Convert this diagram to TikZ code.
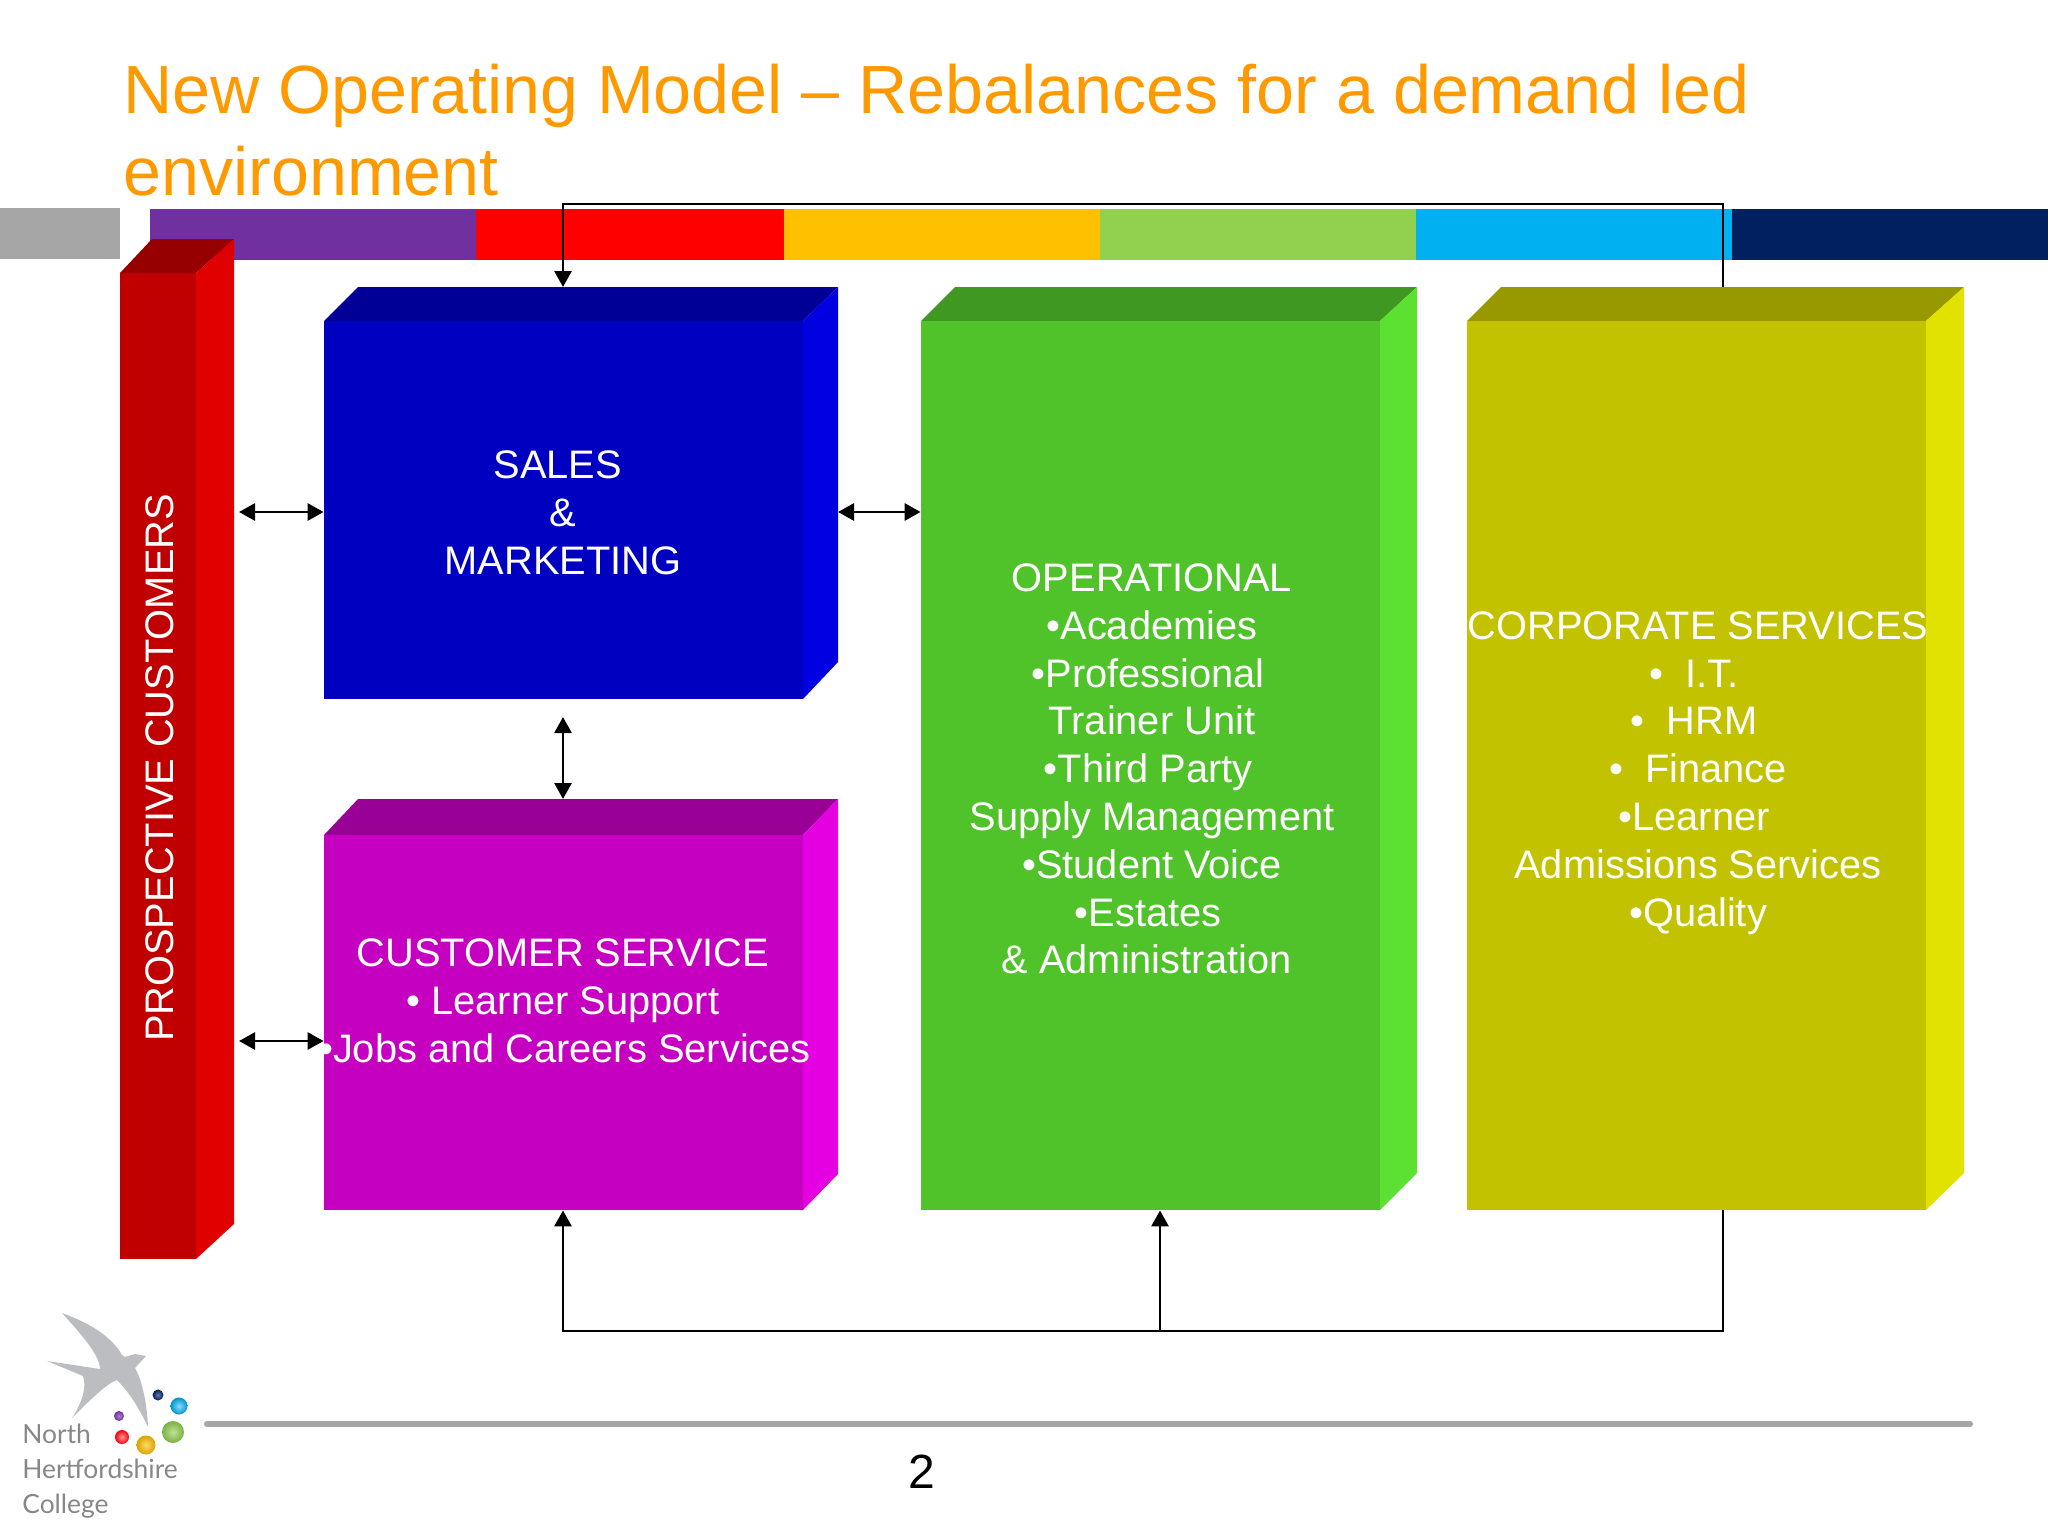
\documentclass[tikz,border=0pt]{standalone}
\usepackage{fontspec}
\setmainfont{Liberation Sans}
\newfontfamily\logofont{Lato}
\usetikzlibrary{arrows.meta,positioning,calc,fit}
\definecolor{titleorange}{RGB}{255,153,0}
\definecolor{stripgrey}{RGB}{166,166,166}
\definecolor{strippurple}{RGB}{112,48,160}
\definecolor{stripyellow}{RGB}{255,192,0}
\definecolor{stripgreen}{RGB}{146,208,80}
\definecolor{stripblue}{RGB}{0,176,240}
\definecolor{stripnavy}{RGB}{0,32,96}
\definecolor{logogrey}{RGB}{188,189,192}
\definecolor{logotext}{RGB}{135,135,138}
\definecolor{redfront}{RGB}{192,0,0}
\definecolor{redside}{RGB}{224,0,0}
\definecolor{redtop}{RGB}{150,0,0}
\definecolor{bluefront}{RGB}{0,0,192}
\definecolor{blueside}{RGB}{0,0,224}
\definecolor{bluetop}{RGB}{0,0,150}
\definecolor{magfront}{RGB}{197,0,192}
\definecolor{magside}{RGB}{228,0,224}
\definecolor{magtop}{RGB}{152,0,150}
\definecolor{greenfront}{RGB}{80,195,43}
\definecolor{greenside}{RGB}{92,224,50}
\definecolor{greentop}{RGB}{62,152,33}
\definecolor{yelfront}{RGB}{194,194,0}
\definecolor{yelside}{RGB}{226,226,0}
\definecolor{yeltop}{RGB}{152,152,0}
\newcommand{\nudge}{\rule{3.9pt}{0pt}}
\tikzset{
  front/.style={fit={#1},inner sep=0pt,draw=none},
  boxtext/.style={text=white,align=center,font=\fontsize{19.9}{23.9}\selectfont},
  titletext/.style={anchor=base west,inner sep=0pt,text=titleorange,font=\fontsize{34.1}{41}\selectfont},
  conn/.style={line width=1.4pt,black},
  both/.style={conn,{Triangle[length=8pt,width=8.5pt]}-{Triangle[length=8pt,width=8.5pt]}},
  into/.style={conn,-{Triangle[length=8pt,width=8.5pt]}},
  ball/.style={circle,inner sep=0pt,minimum size=#1,shading=radial},
  logoline/.style={anchor=base west,inner sep=0pt,text=logotext,font=\logofont\fontsize{13.2}{16}\selectfont}
}
\begin{document}
\begin{tikzpicture}[x=0.5pt,y=-0.5pt]
    \useasboundingbox (0,0) rectangle (2048,1536);

    % Title
    \node[titletext] (title1) at (123,113) {New Operating Model -- Rebalances for a demand led};
    \node[titletext] (title2) at (123,195) {environment};

    % Colour strip
    \fill[stripgrey] (0,208) rectangle (120,259);
    \fill[strippurple] (150,209) rectangle (476,260);
    \fill[red] (476,209) rectangle (784,260);
    \fill[stripyellow] (784,209) rectangle (1100,260);
    \fill[stripgreen] (1100,209) rectangle (1416,260);
    \fill[stripblue] (1416,209) rectangle (1732,260);
    \fill[stripnavy] (1732,209) rectangle (2048,260);

    % Prospective customers
    \fill[redtop] (120,273) -- (152,239) -- (234,239) -- (196,273) -- cycle;
    \fill[redside] (196,273) -- (234,239) -- (234,1224) -- (196,1259) -- cycle;
    \node[front={(120,273) (196,1259)},fill=redfront] (prospects) {};
    \node[boxtext,rotate=90] (prospectstxt) at (160,768) {PROSPECTIVE CUSTOMERS};

    % Sales and marketing
    \fill[bluetop] (324,321) -- (358,287) -- (838,287) -- (803,321) -- cycle;
    \fill[blueside] (803,321) -- (838,287) -- (838,662) -- (803,699) -- cycle;
    \node[front={(324,321) (803,699)},fill=bluefront] (sales) {};
    \node[boxtext] (salestxt) at (563,513) {SALES\hspace*{5.2pt}\\\&\\MARKETING};

    % Customer service
    \fill[magtop] (324,835) -- (358,799) -- (838,799) -- (803,835) -- cycle;
    \fill[magside] (803,835) -- (838,799) -- (838,1174) -- (803,1210) -- cycle;
    \node[front={(324,835) (803,1210)},fill=magfront] (service) {};
    \node[boxtext] (servicetxt) at (565,1001) {\hspace*{-2.1pt}CUSTOMER SERVICE\\\hspace*{-2.1pt}• Learner Support\\•Jobs and Careers Services};

    % Operational
    \fill[greentop] (921,321) -- (955,287) -- (1417,287) -- (1380,321) -- cycle;
    \fill[greenside] (1380,321) -- (1417,287) -- (1417,1173) -- (1380,1210) -- cycle;
    \node[front={(921,321) (1380,1210)},fill=greenfront] (operational) {};
    \node[boxtext] (operationaltxt) at (1152,769) {OPERATIONAL\\•Academies\\•Professional\nudge\\Trainer Unit\\•Third Party\nudge\\Supply Management\\•Student Voice\\•Estates\nudge\\\& Administration\hspace*{5.5pt}};

    % Corporate services
    \fill[yeltop] (1467,321) -- (1501,287) -- (1964,287) -- (1926,321) -- cycle;
    \fill[yelside] (1926,321) -- (1964,287) -- (1964,1173) -- (1926,1210) -- cycle;
    \node[front={(1467,321) (1926,1210)},fill=yelfront] (corporate) {};
    \node[boxtext] (corporatetxt) at (1698,773) {CORPORATE SERVICES\\•\ \ I.T.\nudge\\•\ \ HRM\nudge\\•\ \ Finance\\•Learner\nudge\\Admissions Services\\•Quality};

    % Connector ends
    \coordinate (prosphi) at (239,512);
    \coordinate (prosplo) at (239,1041);
    \coordinate (saleside) at (838,512);
    \coordinate (salesbot) at (563,717);
    \coordinate (servicetop) at (563,799);
    \coordinate (salestop) at (563,287);
    \coordinate (corptop) at (1723,287);
    \coordinate (topline) at (1723,204);
    \coordinate (botline) at (1723,1331);
    \coordinate (junction) at (1160,1331);

    % Arrows
    \draw[both] (prosphi) -- (sales.west |- prosphi);
    \draw[both] (prosplo) -- (service.west |- prosplo);
    \draw[both] (saleside) -- (operational.west |- saleside);
    \draw[both] (salesbot) -- (servicetop);
    \draw[into] (corptop) -- (topline) -- (salestop |- topline) -- (salestop);
    \draw[into] (corptop |- corporate.south) -- (botline) -- (salesbot |- botline) -- (salesbot |- service.south);
    \draw[into] (junction) -- (junction |- operational.south);

    % Footer
    \coordinate (rulestart) at (207,1424);
    \coordinate (ruleend) at (1970,1424);
    \draw[stripgrey,line width=3pt,line cap=round] (rulestart) -- (ruleend);
    \node[font=\fontsize{24}{28}\selectfont] (pagenum) at (922,1472) {2};

    % Logo
    \fill[logogrey] (62,1313) .. controls (90,1323) and (112,1337) .. (122,1355) -- (125,1357) -- (135,1354) -- (146,1356) -- (135,1368) .. controls (142,1380) and (147,1403) .. (148,1427) .. controls (140,1410) and (130,1393) .. (117,1380) .. controls (107,1383) and (88,1402) .. (72,1418) .. controls (82,1403) and (87,1387) .. (83,1376) -- (47,1361) -- (100,1369) .. controls (100,1355) and (80,1333) .. (62,1313) -- cycle;
    \node[ball=8.5pt,inner color=stripblue!45!white,outer color=stripblue!85!black] (ballblue) at (179,1406) {};
    \node[ball=5.5pt,inner color=stripnavy!60!white,outer color=stripnavy] (ballnavy) at (158,1395) {};
    \node[ball=11pt,inner color=stripgreen!60!white,outer color=stripgreen!85!black] (ballgreen) at (173,1432) {};
    \node[ball=9.5pt,inner color=stripyellow!60!white,outer color=stripyellow!85!black] (ballyellow) at (146,1445) {};
    \node[ball=7pt,inner color=red!40!white,outer color=red!80!purple] (ballred) at (122,1437) {};
    \node[ball=5pt,inner color=strippurple!60!white,outer color=strippurple] (ballpurple) at (119,1416) {};
    \node[logoline] (logo1) at (22,1443) {North};
    \node[logoline] (logo2) at (22,1478) {Hertfordshire};
    \node[logoline] (logo3) at (22,1513) {College};
\end{tikzpicture}
\end{document}
